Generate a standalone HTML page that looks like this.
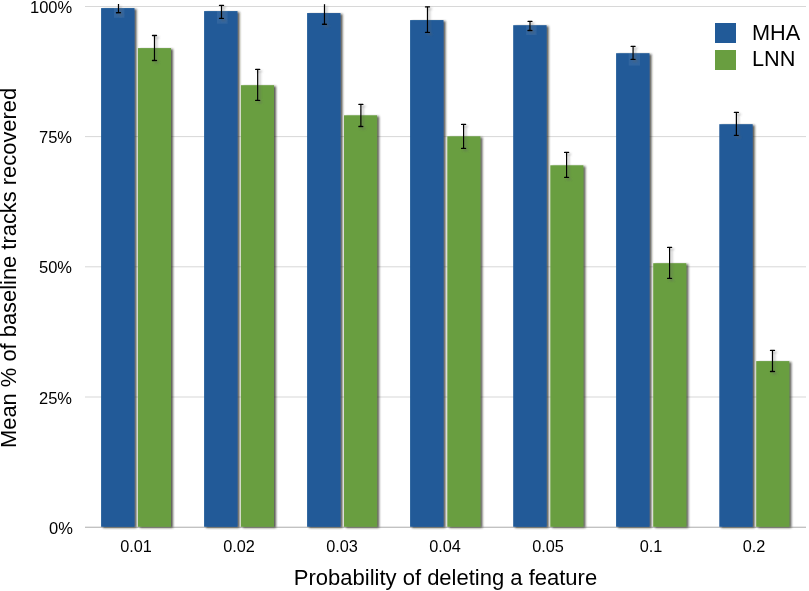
<!DOCTYPE html>
<html><head><meta charset="utf-8"><style>
html,body{margin:0;padding:0;background:#fff;}
body{width:809px;height:591px;position:relative;overflow:hidden;font-family:"Liberation Sans",sans-serif;color:#000;}
.yl,.xl,.xt,.yt,.lt{will-change:transform;}
.yl{position:absolute;right:736.6px;font-size:16.5px;line-height:19px;white-space:nowrap;}
.xl{position:absolute;top:537px;width:80px;text-align:center;font-size:16.3px;line-height:19px;white-space:nowrap;}
.xt{position:absolute;left:0;width:891px;top:565px;text-align:center;font-size:22px;line-height:25px;white-space:nowrap;}
.yt{position:absolute;left:-170px;top:257.3px;width:357px;height:25px;transform:rotate(-90deg);transform-origin:center;text-align:center;font-size:21.9px;line-height:25px;white-space:nowrap;}
.lg{position:absolute;width:21px;height:20px;left:715px;}
.lt{position:absolute;left:752px;font-size:21.7px;line-height:25px;white-space:nowrap;}
</style></head><body>
<svg width="809" height="591" viewBox="0 0 809 591" style="position:absolute;left:0;top:0">
<defs>
<filter id="sh" x="-20%" y="-5%" width="140%" height="110%">
<feGaussianBlur in="SourceAlpha" stdDeviation="1.1"/>
<feOffset dx="1.8" dy="1.2" result="b"/>
<feFlood flood-color="#202018" flood-opacity="0.75"/>
<feComposite in2="b" operator="in"/>
<feMerge><feMergeNode/><feMergeNode in="SourceGraphic"/></feMerge>
</filter>
<filter id="esh" x="-50%" y="-20%" width="200%" height="140%">
<feGaussianBlur in="SourceAlpha" stdDeviation="1.3"/>
<feOffset dx="2" dy="1.5" result="b"/>
<feFlood flood-color="#606060" flood-opacity="0.5"/>
<feComposite in2="b" operator="in"/>
<feMerge><feMergeNode/><feMergeNode in="SourceGraphic"/></feMerge>
</filter>
</defs>
<rect x="85" y="6.00" width="721" height="1" fill="#d8d8d8"/><rect x="85" y="136.10" width="721" height="1" fill="#d8d8d8"/><rect x="85" y="266.30" width="721" height="1" fill="#d8d8d8"/><rect x="85" y="396.50" width="721" height="1" fill="#d8d8d8"/><rect x="85" y="526.70" width="721" height="1.1" fill="#b4b4b4"/><g filter="url(#sh)"><rect x="101.1" y="8.1" width="33.4" height="518.70" fill="#215a98"/><rect x="137.9" y="48.1" width="33.1" height="478.70" fill="#699e40"/><rect x="204.1" y="11.1" width="33.4" height="515.70" fill="#215a98"/><rect x="240.9" y="85.2" width="33.1" height="441.60" fill="#699e40"/><rect x="307.1" y="13.05" width="33.4" height="513.75" fill="#215a98"/><rect x="344.0" y="115.3" width="33.1" height="411.50" fill="#699e40"/><rect x="410.1" y="20.1" width="33.4" height="506.70" fill="#215a98"/><rect x="447.3" y="136.3" width="33.1" height="390.50" fill="#699e40"/><rect x="513.2" y="25.2" width="33.4" height="501.60" fill="#215a98"/><rect x="550.3" y="165.3" width="33.1" height="361.50" fill="#699e40"/><rect x="616.1" y="53.2" width="33.4" height="473.60" fill="#215a98"/><rect x="653.2" y="263.2" width="33.1" height="263.60" fill="#699e40"/><rect x="719.3" y="124.2" width="33.4" height="402.60" fill="#215a98"/><rect x="756.2" y="361.1" width="33.1" height="165.70" fill="#699e40"/></g><rect x="114" y="8.1" width="10.4" height="9.7" fill="#fff" fill-opacity="0.07"/><rect x="217" y="11.1" width="10.6" height="12.6" fill="#fff" fill-opacity="0.07"/><rect x="526.2" y="25.2" width="10.4" height="9.9" fill="#fff" fill-opacity="0.07"/><rect x="628.7" y="53.2" width="11.3" height="12.4" fill="#fff" fill-opacity="0.07"/><g filter="url(#esh)"><path d="M118.5 4.0 V12.7" stroke="#000" stroke-width="1.25" fill="none"/><path d="M116.5 12.7 H120.5" stroke="#000" stroke-width="1.35" stroke-linecap="round" fill="none"/><path d="M221.5 5.4 V18.3" stroke="#000" stroke-width="1.25" fill="none"/><path d="M219.5 18.3 H223.5" stroke="#000" stroke-width="1.35" stroke-linecap="round" fill="none"/><path d="M219.5 5.4 H223.5" stroke="#000" stroke-width="1.35" stroke-linecap="round" fill="none"/><path d="M324.5 4.2 V24.2" stroke="#000" stroke-width="1.25" fill="none"/><path d="M322.5 24.2 H326.5" stroke="#000" stroke-width="1.35" stroke-linecap="round" fill="none"/><path d="M427.5 6.9 V32.3" stroke="#000" stroke-width="1.25" fill="none"/><path d="M425.5 32.3 H429.5" stroke="#000" stroke-width="1.35" stroke-linecap="round" fill="none"/><path d="M425.5 6.9 H429.5" stroke="#000" stroke-width="1.35" stroke-linecap="round" fill="none"/><path d="M530.0 21.3 V30.5" stroke="#000" stroke-width="1.25" fill="none"/><path d="M528.0 30.5 H532.0" stroke="#000" stroke-width="1.35" stroke-linecap="round" fill="none"/><path d="M528.0 21.3 H532.0" stroke="#000" stroke-width="1.35" stroke-linecap="round" fill="none"/><path d="M633.1 46.3 V59.4" stroke="#000" stroke-width="1.25" fill="none"/><path d="M631.1 59.4 H635.1" stroke="#000" stroke-width="1.35" stroke-linecap="round" fill="none"/><path d="M631.1 46.3 H635.1" stroke="#000" stroke-width="1.35" stroke-linecap="round" fill="none"/><path d="M736.4 112.4 V135.3" stroke="#000" stroke-width="1.25" fill="none"/><path d="M734.4 135.3 H738.4" stroke="#000" stroke-width="1.35" stroke-linecap="round" fill="none"/><path d="M734.4 112.4 H738.4" stroke="#000" stroke-width="1.35" stroke-linecap="round" fill="none"/><path d="M154.5 35.5 V60.5" stroke="#000" stroke-width="1.25" fill="none"/><path d="M152.5 60.5 H156.5" stroke="#000" stroke-width="1.35" stroke-linecap="round" fill="none"/><path d="M152.5 35.5 H156.5" stroke="#000" stroke-width="1.35" stroke-linecap="round" fill="none"/><path d="M257.7 69.4 V100.4" stroke="#000" stroke-width="1.25" fill="none"/><path d="M255.7 100.4 H259.7" stroke="#000" stroke-width="1.35" stroke-linecap="round" fill="none"/><path d="M255.7 69.4 H259.7" stroke="#000" stroke-width="1.35" stroke-linecap="round" fill="none"/><path d="M360.9 104.4 V126.5" stroke="#000" stroke-width="1.25" fill="none"/><path d="M358.9 126.5 H362.9" stroke="#000" stroke-width="1.35" stroke-linecap="round" fill="none"/><path d="M358.9 104.4 H362.9" stroke="#000" stroke-width="1.35" stroke-linecap="round" fill="none"/><path d="M463.6 124.4 V148.4" stroke="#000" stroke-width="1.25" fill="none"/><path d="M461.6 148.4 H465.6" stroke="#000" stroke-width="1.35" stroke-linecap="round" fill="none"/><path d="M461.6 124.4 H465.6" stroke="#000" stroke-width="1.35" stroke-linecap="round" fill="none"/><path d="M566.6 152.4 V177.3" stroke="#000" stroke-width="1.25" fill="none"/><path d="M564.6 177.3 H568.6" stroke="#000" stroke-width="1.35" stroke-linecap="round" fill="none"/><path d="M564.6 152.4 H568.6" stroke="#000" stroke-width="1.35" stroke-linecap="round" fill="none"/><path d="M669.6 247.4 V278.3" stroke="#000" stroke-width="1.25" fill="none"/><path d="M667.6 278.3 H671.6" stroke="#000" stroke-width="1.35" stroke-linecap="round" fill="none"/><path d="M667.6 247.4 H671.6" stroke="#000" stroke-width="1.35" stroke-linecap="round" fill="none"/><path d="M772.5 350.4 V371.5" stroke="#000" stroke-width="1.25" fill="none"/><path d="M770.5 371.5 H774.5" stroke="#000" stroke-width="1.35" stroke-linecap="round" fill="none"/><path d="M770.5 350.4 H774.5" stroke="#000" stroke-width="1.35" stroke-linecap="round" fill="none"/></g>
</svg>
<div class="yl" style="top:-1.9px">100%</div><div class="yl" style="top:128.2px">75%</div><div class="yl" style="top:258.4px">50%</div><div class="yl" style="top:388.6px">25%</div><div class="yl" style="top:518.8px">0%</div><div class="xl" style="left:95.7px">0.01</div><div class="xl" style="left:198.7px">0.02</div><div class="xl" style="left:301.8px">0.03</div><div class="xl" style="left:404.8px">0.04</div><div class="xl" style="left:507.8px">0.05</div><div class="xl" style="left:610.9px">0.1</div><div class="xl" style="left:713.9px">0.2</div>
<div class="xt">Probability of deleting a feature</div>
<div class="yt">Mean % of baseline tracks recovered</div>
<div class="lg" style="top:23px;background:#215a98"></div>
<div class="lg" style="top:49.5px;background:#699e40"></div>
<div class="lt" style="top:20px">MHA</div>
<div class="lt" style="top:46px">LNN</div>
</body></html>
